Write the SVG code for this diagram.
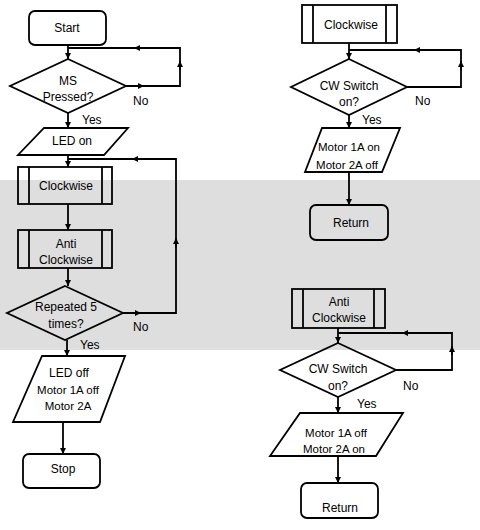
<svg xmlns="http://www.w3.org/2000/svg" width="480" height="530" viewBox="0 0 480 530">
<style>
.s{fill:none;stroke:#000;stroke-width:1.8}
.c{fill:none;stroke:#000;stroke-width:1.8}
.t{font-family:"Liberation Sans",Arial,sans-serif;font-size:12px;fill:#000;text-anchor:middle}
.l{font-family:"Liberation Sans",Arial,sans-serif;font-size:12px;fill:#000}
.n{font-size:11.5px}
</style>
<defs>
<marker id="a" viewBox="0 0 10 10" refX="10" refY="5" markerUnits="userSpaceOnUse" markerWidth="7" markerHeight="6" orient="auto">
<path d="M0,0 L10,5 L0,10 z" fill="#000"/>
</marker>
</defs>
<rect x="0" y="0" width="480" height="530" fill="#fff"/>
<rect x="0" y="180" width="480" height="170" fill="#dedede"/>

<g id="connectors">
<path class="c" d="M68,45 V59" marker-end="url(#a)"/>
<path class="c" d="M126,86 H180 V48 H68"/>
<path class="c" d="M136,86 H144" marker-end="url(#a)"/>
<path class="c" d="M180,70 V61" marker-end="url(#a)"/>
<path class="c" d="M142,48 H134" marker-end="url(#a)"/>
<path class="c" d="M68,113 V128" marker-end="url(#a)"/>
<path class="c" d="M68,155 V167" marker-end="url(#a)"/>
<path class="c" d="M68,204 V230" marker-end="url(#a)"/>
<path class="c" d="M68,268 V286" marker-end="url(#a)"/>
<path class="c" d="M123,313 H176 V159 H68"/>
<path class="c" d="M133,313 H141" marker-end="url(#a)"/>
<path class="c" d="M176,247 V238" marker-end="url(#a)"/>
<path class="c" d="M141,159 H132" marker-end="url(#a)"/>
<path class="c" d="M67,340 V356" marker-end="url(#a)"/>
<path class="c" d="M63,422 V454" marker-end="url(#a)"/>

<path class="c" d="M349,43 V59" marker-end="url(#a)"/>
<path class="c" d="M407,87 H461 V50 H349"/>
<path class="c" d="M461,70 V61" marker-end="url(#a)"/>
<path class="c" d="M422,50 H414" marker-end="url(#a)"/>
<path class="c" d="M349,115 V128" marker-end="url(#a)"/>
<path class="c" d="M349,172 V205" marker-end="url(#a)"/>

<path class="c" d="M338,328 V343" marker-end="url(#a)"/>
<path class="c" d="M396,370 H452 V333 H338"/>
<path class="c" d="M452,355 V346" marker-end="url(#a)"/>
<path class="c" d="M410,333 H402" marker-end="url(#a)"/>
<path class="c" d="M338,397 V413" marker-end="url(#a)"/>
<path class="c" d="M338,456 V483" marker-end="url(#a)"/>
</g>

<g id="start">
<rect class="s" x="29" y="11" width="77" height="34" rx="6"/>
<text class="t" x="67" y="32">Start</text>
</g>
<g id="ms-pressed">
<polygon class="s" points="68,59 126,86 68,113 10,86"/>
<text class="t" x="68" y="85">MS</text>
<text class="t" x="68" y="101">Pressed?</text>
<text class="l" x="133" y="105">No</text>
<text class="l" x="82" y="124">Yes</text>
</g>
<g id="led-on">
<polygon class="s" points="44,128 128,128 104,155 18,155"/>
<text class="t" x="72" y="145">LED on</text>
</g>
<g id="clockwise-call">
<rect class="s" x="18" y="167" width="94" height="37"/>
<line class="s" x1="29" y1="167" x2="29" y2="204"/>
<line class="s" x1="102" y1="167" x2="102" y2="204"/>
<text class="t" x="66" y="190">Clockwise</text>
</g>
<g id="anticlockwise-call">
<rect class="s" x="18" y="230" width="94" height="38"/>
<line class="s" x1="29" y1="230" x2="29" y2="268"/>
<line class="s" x1="102" y1="230" x2="102" y2="268"/>
<text class="t" x="66" y="248">Anti</text>
<text class="t" x="66" y="264">Clockwise</text>
</g>
<g id="repeated">
<polygon class="s" points="65,286 123,313 65,340 7,313"/>
<text class="t" x="66" y="311">Repeated 5</text>
<text class="t" x="66" y="328">times?</text>
<text class="l" x="133" y="331">No</text>
<text class="l" x="80" y="349">Yes</text>
</g>
<g id="led-off">
<polygon class="s" points="42,356 125,356 100,422 13,422"/>
<text class="t" x="69" y="377">LED off</text>
<text class="t n" x="68" y="394">Motor 1A off</text>
<text class="t n" x="68" y="410">Motor 2A</text>
</g>
<g id="stop">
<rect class="s" x="23" y="454" width="77" height="34" rx="6"/>
<text class="t" x="63" y="473">Stop</text>
</g>

<g id="clockwise-sub">
<rect class="s" x="302" y="5" width="95" height="38"/>
<line class="s" x1="313" y1="5" x2="313" y2="43"/>
<line class="s" x1="386" y1="5" x2="386" y2="43"/>
<text class="t" x="351" y="29">Clockwise</text>
</g>
<g id="cw-switch-1">
<polygon class="s" points="349,59 407,87 349,115 291,87"/>
<text class="t" x="349" y="90">CW Switch</text>
<text class="t" x="349" y="106">on?</text>
<text class="l" x="415" y="105">No</text>
<text class="l" x="362" y="124">Yes</text>
</g>
<g id="motor-cw">
<polygon class="s" points="322,128 400,128 382,172 305,172"/>
<text class="t n" x="349" y="151">Motor 1A on</text>
<text class="t n" x="347" y="169">Motor 2A off</text>
</g>
<g id="return-1">
<rect class="s" x="310" y="205" width="78" height="35" rx="6"/>
<text class="t" x="351" y="227">Return</text>
</g>

<g id="anticlockwise-sub">
<rect class="s" x="292" y="289" width="93" height="39"/>
<line class="s" x1="303" y1="289" x2="303" y2="328"/>
<line class="s" x1="374" y1="289" x2="374" y2="328"/>
<text class="t" x="339" y="306">Anti</text>
<text class="t" x="339" y="322">Clockwise</text>
</g>
<g id="cw-switch-2">
<polygon class="s" points="338,343 396,370 338,397 280,370"/>
<text class="t" x="338" y="373">CW Switch</text>
<text class="t" x="338" y="390">on?</text>
<text class="l" x="403" y="390">No</text>
<text class="l" x="357" y="408">Yes</text>
</g>
<g id="motor-acw">
<polygon class="s" points="300,413 403,413 376,456 270,456"/>
<text class="t n" x="336" y="437">Motor 1A off</text>
<text class="t n" x="334" y="453">Motor 2A on</text>
</g>
<g id="return-2">
<rect class="s" x="301" y="483" width="77" height="35" rx="6"/>
<text class="t" x="340" y="512">Return</text>
</g>
</svg>
